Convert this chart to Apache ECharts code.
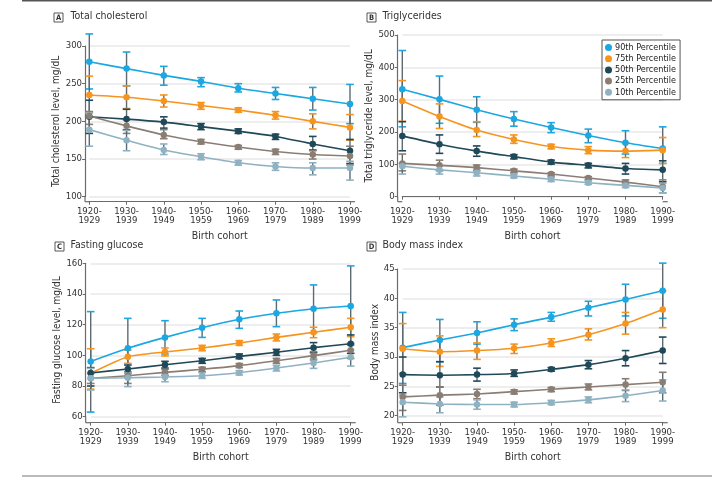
<!DOCTYPE html>
<html><head><meta charset="utf-8">
<script src="https://cdn.jsdelivr.net/npm/echarts@6/dist/echarts.min.js"></script>
<style>html,body{margin:0;padding:0;background:#fff}#c{width:720px;height:478px}</style>
</head><body><div id="c"></div>
<script>
const cohorts = ['1920-\n1929','1930-\n1939','1940-\n1949','1950-\n1959','1960-\n1969','1970-\n1979','1980-\n1989','1990-\n1999'];
const percentiles = ['90th Percentile','75th Percentile','50th Percentile','25th Percentile','10th Percentile'];
const colors = ['#1aa7e2','#f7941d','#1f4858','#8a7e74','#8fb2c2'];

// A Total cholesterol
const chol90 = [279, 270, 261, 253, 244, 237, 230, 223];
const chol90ci = [[243,316],[247,292],[248,273],[246,258],[239,250],[229,245],[215,245],[197,249]];
const chol75 = [235, 232, 227, 221, 215, 208, 200, 192];
const chol75ci = [[212,260],[217,247],[219,235],[216,225],[212,218],[203,213],[190,210],[175,209]];
const chol50 = [206, 203, 199, 193, 187, 180, 170, 161];
const chol50ci = [[184,228],[189,216],[191,206],[189,197],[184,190],[176,183],[162,180],[144,176]];
const chol25 = [207, 194, 182, 173, 166, 160, 156, 154];
const chol25ci = [[196,213],[184,202],[177,189],[170,176],[163,168],[156,163],[150,161],[142,167]];
const chol10 = [189, 175, 162, 153, 145, 140, 138, 138];
const chol10ci = [[167,211],[161,188],[156,170],[149,157],[142,148],[135,145],[129,145],[122,147]];

// B Triglycerides
const trig90 = [332, 301, 269, 240, 214, 189, 167, 149];
const trig90ci = [[216,452],[227,373],[230,309],[218,263],[198,229],[167,209],[132,204],[103,216]];
const trig75 = [296, 248, 206, 177, 155, 144, 141, 144];
const trig75ci = [[233,359],[211,287],[186,232],[165,191],[148,162],[133,155],[121,165],[103,183]];
const trig50 = [188, 162, 141, 124, 107, 97, 87, 83];
const trig50ci = [[142,232],[134,191],[125,157],[117,130],[101,113],[89,103],[70,103],[46,111]];
const trig25 = [103, 97, 90, 80, 70, 58, 45, 31];
const trig25ci = [[80,132],[80,113],[80,98],[74,85],[64,74],[52,62],[36,52],[12,52]];
const trig10 = [94, 83, 74, 64, 54, 43, 35, 27];
const trig10ci = [[70,103],[70,96],[64,83],[58,70],[47,59],[38,49],[28,41],[12,41]];

// C Fasting glucose
const gluc90 = [96, 104.6, 111.7, 118, 123.5, 127.4, 130.4, 132.2];
const gluc90ci = [[63,128.5],[85.6,124.1],[100.9,122.6],[111.7,124.1],[117.6,128.9],[118.7,136.1],[114.8,145.9],[106.7,158.3]];
const gluc75 = [88.3, 99.1, 102.2, 104.8, 108, 111.7, 115, 118.3];
const gluc75ci = [[78,104.3],[94.8,103.5],[99.6,104.8],[103,106.5],[106.5,109.6],[109.4,113.9],[111.5,118.3],[112.2,124.1]];
const gluc50 = [88.5, 91.1, 93.9, 96.5, 99.3, 102, 105, 107.6];
const gluc50ci = [[80,92],[88.3,93.7],[91.7,96.1],[94.8,98],[97.8,100.9],[100,103.9],[101.7,108.3],[101.3,113.3]];
const gluc25 = [85, 86.7, 88.9, 90.9, 93.3, 96.5, 99.8, 103.3];
const gluc25ci = [[81.7,88.3],[81.7,89.3],[87,90.9],[89.3,92.2],[92,94.6],[94.8,98],[97,102.4],[98,107.8]];
const gluc10 = [85, 85.4, 85.9, 86.7, 88.7, 91.7, 95, 98.7];
const gluc10ci = [[77.4,91.5],[79.6,88.3],[82.8,88.7],[85,88.7],[87.2,90],[89.8,93.5],[91.5,98],[93,103.5]];

// D Body mass index
const bmi90 = [31.6, 32.9, 34.1, 35.5, 36.8, 38.4, 39.8, 41.3];
const bmi90ci = [[25.5,37.6],[29.2,36.4],[32.2,36],[34.5,36.5],[36.1,37.6],[37,39.5],[37,42.4],[36.6,46]];
const bmi75 = [31.4, 30.9, 31.1, 31.5, 32.4, 33.8, 35.7, 38.1];
const bmi75ci = [[27.2,35.7],[28.4,33.6],[29.6,32.4],[30.6,32.2],[31.8,33.1],[32.9,34.8],[33.9,37.6],[35,41.3]];
const bmi50 = [27, 26.9, 27, 27.2, 27.9, 28.7, 29.8, 31.1];
const bmi50ci = [[23.9,30],[24.9,29.2],[25.9,28.1],[26.7,27.8],[27.6,28.2],[28,29.4],[28.5,31.1],[28.9,33.4]];
const bmi25 = [23.2, 23.5, 23.7, 24.1, 24.5, 24.9, 25.3, 25.7];
const bmi25ci = [[20.9,25.2],[21.8,24.9],[22.9,24.5],[23.7,24.4],[24.1,24.8],[24.4,25.4],[24.3,26.3],[23.9,27.4]];
const bmi10 = [22.3, 22, 21.9, 21.9, 22.2, 22.7, 23.4, 24.3];
const bmi10ci = [[19.8,23.5],[20.5,23.2],[21.1,22.7],[21.5,22.3],[21.9,22.6],[22.2,23.2],[22.4,24.4],[22.5,26.1]];

const yTicksA = {min:100, max:300, interval:50};
const yTicksB = {min:0, max:500, interval:100};
const yTicksC = {min:60, max:160, interval:20};
const yTicksD = {min:20, max:45, interval:5};

const FONT = "'Liberation Sans Narrow','DejaVu Sans Condensed','Roboto Condensed',sans-serif";

const panels = [
  {letter:'A', title:'Total cholesterol', yname:'Total cholesterol level, mg/dL', ticks:yTicksA,
   grid:{left:89.3, right:370, top:46, bottom:281.3}, yoff:4.3, xoff:5, ygap:22,
   means:[chol90,chol75,chol50,chol25,chol10], cis:[chol90ci,chol75ci,chol50ci,chol25ci,chol10ci],
   box:[54,13], tx:70.5, ty:17},
  {letter:'B', title:'Triglycerides', yname:'Total triglyceride level, mg/dL', ticks:yTicksB,
   grid:{left:402.3, right:57.3, top:35, bottom:281.3}, yoff:4.6, xoff:5, ygap:22,
   means:[trig90,trig75,trig50,trig25,trig10], cis:[trig90ci,trig75ci,trig50ci,trig25ci,trig10ci],
   box:[367,13], tx:382.5, ty:17},
  {letter:'C', title:'Fasting glucose', yname:'Fasting glucose level, mg/dL', ticks:yTicksC,
   grid:{left:90.7, right:369.3, top:263.3, bottom:61.3}, yoff:5, xoff:6, ygap:22,
   means:[gluc90,gluc75,gluc50,gluc25,gluc10], cis:[gluc90ci,gluc75ci,gluc50ci,gluc25ci,gluc10ci],
   box:[55,242], tx:70.5, ty:246},
  {letter:'D', title:'Body mass index', yname:'Body mass index', ticks:yTicksD,
   grid:{left:402.7, right:57.3, top:269, bottom:62.3}, yoff:5, xoff:7, ygap:17,
   means:[bmi90,bmi75,bmi50,bmi25,bmi10], cis:[bmi90ci,bmi75ci,bmi50ci,bmi25ci,bmi10ci],
   box:[367,242], tx:382.5, ty:246}
];

function errRender(color){
  return function(params, api){
    const x = api.value(0), lo = api.value(1), hi = api.value(2);
    const pHi = api.coord([x, hi]), pLo = api.coord([x, lo]);
    const w = 3.8;
    return {type:'group', children:[
      {type:'line', shape:{x1:pHi[0],y1:pHi[1],x2:pLo[0],y2:pLo[1]}, style:{stroke:'#5d6a72', lineWidth:1.4}},
      {type:'line', shape:{x1:pHi[0]-w,y1:pHi[1],x2:pHi[0]+w,y2:pHi[1]}, style:{stroke:color, lineWidth:1.6}},
      {type:'line', shape:{x1:pLo[0]-w,y1:pLo[1],x2:pLo[0]+w,y2:pLo[1]}, style:{stroke:color, lineWidth:1.6}}
    ]};
  };
}

const grids=[], xAxes=[], yAxes=[], series=[], titles=[], graphics=[];
const axisColor = '#6b6b6b';
panels.forEach((p, gi) => {
  grids.push(Object.assign({containLabel:false}, p.grid));
  xAxes.push({type:'category', gridIndex:gi, data:cohorts, boundaryGap:false, offset:p.xoff,
    name:'Birth cohort', nameLocation:'middle', nameGap:29,
    nameTextStyle:{fontFamily:FONT, fontSize:10.5, color:'#333'},
    axisLine:{lineStyle:{color:axisColor, width:1.2}},
    axisTick:{alignWithLabel:true, length:3, lineStyle:{color:axisColor}},
    axisLabel:{fontFamily:FONT, fontSize:9.5, color:'#333', lineHeight:9.5, margin:5, interval:0}
  });
  yAxes.push({type:'value', gridIndex:gi, min:p.ticks.min, max:p.ticks.max, interval:p.ticks.interval, offset:p.yoff,
    name:p.yname, nameLocation:'middle', nameGap:p.ygap, nameRotate:90,
    nameTextStyle:{fontFamily:FONT, fontSize:10, color:'#333'},
    axisLine:{show:true, lineStyle:{color:axisColor, width:1.2}},
    axisTick:{show:true, length:3, lineStyle:{color:axisColor}},
    axisLabel:{fontFamily:FONT, fontSize:9.5, color:'#333', margin:3},
    splitLine:{lineStyle:{color:'#e8e8e8', width:1.5}}
  });
  p.cis.forEach((ci, si) => {
    series.push({type:'custom', name:'ci'+gi+'_'+si, xAxisIndex:gi, yAxisIndex:gi, z:2,
      renderItem:errRender(colors[si]), data:ci.map((d,i)=>[i, d[0], d[1]]), silent:true});
  });
  p.means.forEach((m, si) => {
    series.push({type:'line', name:percentiles[si], xAxisIndex:gi, yAxisIndex:gi, data:m, z:3,
      smooth:0.2, symbol:'circle', symbolSize:6.5, showSymbol:true,
      lineStyle:{color:colors[si], width:1.6}, itemStyle:{color:colors[si]}});
  });
  titles.push({text:p.title, left:p.tx, top:p.ty-6.5, padding:0,
    textStyle:{fontFamily:FONT, fontSize:10.5, fontWeight:'normal', color:'#333'}});
  graphics.push({type:'rect', shape:{x:p.box[0], y:p.box[1], width:9, height:9},
    style:{fill:'#fff', stroke:'#444', lineWidth:0.9}});
  graphics.push({type:'text', x:p.box[0]+4.5, y:p.box[1]+4.8,
    style:{text:p.letter, fontFamily:FONT, fontSize:7.5, fontWeight:'bold', fill:'#333', align:'center', verticalAlign:'middle'}});
  const gx = p.grid.left, gyBottom = 478 - p.grid.bottom;
  graphics.push({type:'line', shape:{x1:gx-p.yoff, y1:gyBottom, x2:gx-p.yoff, y2:gyBottom+p.xoff},
    style:{stroke:axisColor, lineWidth:1.2}});
  graphics.push({type:'line', shape:{x1:gx-p.yoff, y1:gyBottom+p.xoff, x2:gx, y2:gyBottom+p.xoff},
    style:{stroke:axisColor, lineWidth:1.2}});
  const gxr = 720 - p.grid.right;
  graphics.push({type:'line', shape:{x1:gxr, y1:gyBottom+p.xoff, x2:gxr+5, y2:gyBottom+p.xoff},
    style:{stroke:axisColor, lineWidth:1.2}});
});
graphics.push({type:'line', shape:{x1:22, y1:0.8, x2:712, y2:0.8}, style:{stroke:'#555', lineWidth:1.6}});
graphics.push({type:'line', shape:{x1:22, y1:476, x2:712, y2:476}, style:{stroke:'#777', lineWidth:1}});

const chart = echarts.init(document.getElementById('c'), null, {renderer:'canvas'});
chart.setOption({
  animation:false,
  backgroundColor:'#fff',
  title:titles,
  grid:grids, xAxis:xAxes, yAxis:yAxes, series:series,
  legend:{data:percentiles.map(n=>({name:n, icon:'circle'})), orient:'vertical', left:602, top:40,
    borderColor:'#555', borderWidth:1, padding:[3,4,3,3], itemGap:2.2, itemWidth:7, itemHeight:7,
    textStyle:{fontFamily:FONT, fontSize:9, color:'#222', padding:[0,0,0,-2]}, selectedMode:false},
  graphic:graphics
});
</script></body></html>
